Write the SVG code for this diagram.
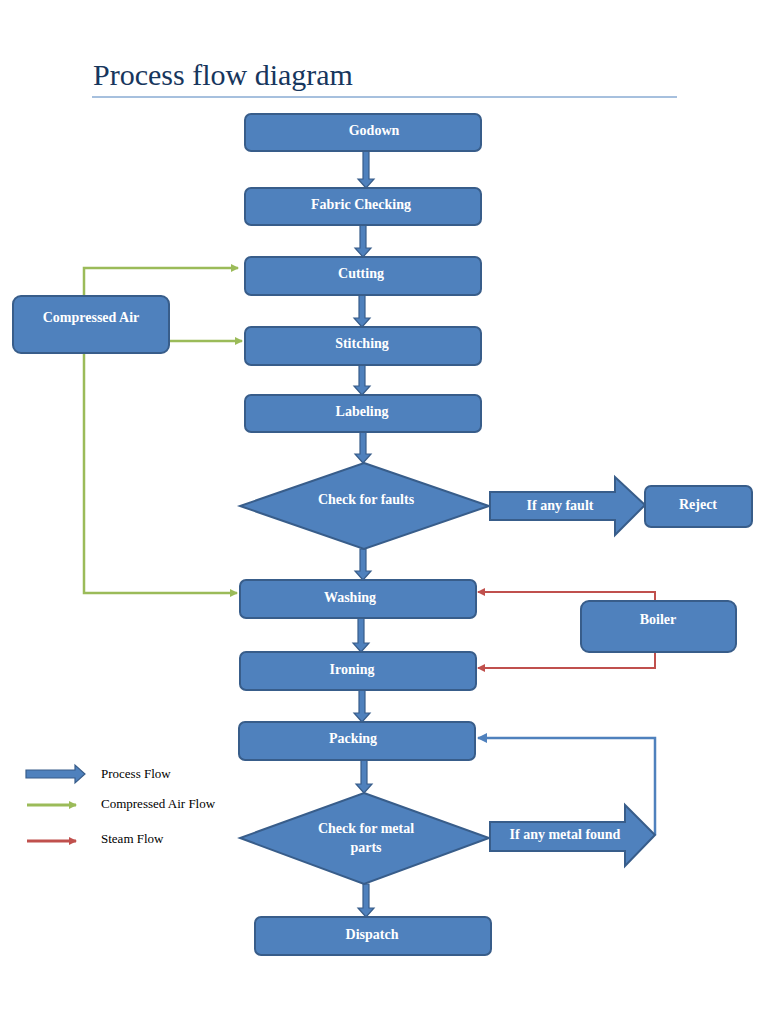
<svg xmlns="http://www.w3.org/2000/svg" width="768" height="1024" viewBox="0 0 768 1024">
<style>
.n{fill:#4F81BD;stroke:#385D8A;stroke-width:2}
.t{font-family:"Liberation Serif","DejaVu Serif",serif;font-weight:bold;font-size:14px;fill:#fff;text-anchor:middle}
.lg{font-family:"Liberation Serif","DejaVu Serif",serif;font-size:13px;fill:#000}
.pa{fill:#4F81BD;stroke:#385D8A;stroke-width:1.2}
.g{fill:none;stroke:#9BBB59;stroke-width:2.5}
.r{fill:none;stroke:#C0504D;stroke-width:2}
.b{fill:none;stroke:#4F81BD;stroke-width:2.5}
</style>
<defs>
<marker id="mg" markerWidth="8" markerHeight="8" refX="7" refY="4" orient="auto" markerUnits="userSpaceOnUse" viewBox="0 0 8 8"><path d="M0,0 L8,4 L0,8 z" fill="#9BBB59"/></marker>
<marker id="mr" markerWidth="8" markerHeight="8" refX="7" refY="4" orient="auto" markerUnits="userSpaceOnUse" viewBox="0 0 8 8"><path d="M0,0 L8,4 L0,8 z" fill="#C0504D"/></marker>
<marker id="mb" markerWidth="10" markerHeight="10" refX="9" refY="5" orient="auto" markerUnits="userSpaceOnUse" viewBox="0 0 10 10"><path d="M0,0 L10,5 L0,10 z" fill="#4F81BD"/></marker>
</defs>
<text x="93" y="85" font-family="Liberation Serif,DejaVu Serif,serif" font-size="30" fill="#17365D">Process flow diagram</text>
<line x1="92" y1="97" x2="677" y2="97" stroke="#4F81BD" stroke-width="1"/>
<g id="connectors">
<polygon class="pa" points="363,151 369,151 369,179 374,179 366,188 358,179 363,179"/>
<polygon class="pa" points="360,225 366,225 366,248 371,248 363,257 355,248 360,248"/>
<polygon class="pa" points="359,295 365,295 365,318 370,318 362,327 354,318 359,318"/>
<polygon class="pa" points="359,365 365,365 365,386 370,386 362,395 354,386 359,386"/>
<polygon class="pa" points="360,432 366,432 366,454 371,454 363,463 355,454 360,454"/>
<polygon class="pa" points="360,549 366,549 366,571 371,571 363,580 355,571 360,571"/>
<polygon class="pa" points="358,618 364,618 364,643 369,643 361,652 353,643 358,643"/>
<polygon class="pa" points="359,690 365,690 365,713 370,713 362,722 354,713 359,713"/>
<polygon class="pa" points="361,760 367,760 367,784 372,784 364,793 356,784 361,784"/>
<polygon class="pa" points="363,884 369,884 369,908 374,908 366,917 358,908 363,908"/>
<polyline class="g" points="84,296 84,268 238,268" marker-end="url(#mg)"/>
<polyline class="g" points="169,341 242,341" marker-end="url(#mg)"/>
<polyline class="g" points="84,353 84,593 237,593" marker-end="url(#mg)"/>
<polyline class="r" points="655,601 655,592 478,592" marker-end="url(#mr)"/>
<polyline class="r" points="655,652 655,668 478,668" marker-end="url(#mr)"/>
<polyline class="b" points="655,835 655,738 478,738" marker-end="url(#mb)"/>
</g>
<g id="godown"><rect class="n" x="245" y="114" width="236" height="37" rx="6"/><text class="t" x="374" y="135">Godown</text></g>
<g id="fabric"><rect class="n" x="245" y="188" width="236" height="37" rx="6"/><text class="t" x="361" y="209">Fabric Checking</text></g>
<g id="cutting"><rect class="n" x="245" y="257" width="236" height="38" rx="6"/><text class="t" x="361" y="278">Cutting</text></g>
<g id="stitching"><rect class="n" x="245" y="327" width="236" height="38" rx="6"/><text class="t" x="362" y="348">Stitching</text></g>
<g id="labeling"><rect class="n" x="245" y="395" width="236" height="37" rx="6"/><text class="t" x="362" y="416">Labeling</text></g>
<g id="compressed-air"><rect class="n" x="13" y="296" width="156" height="57" rx="8"/><text class="t" x="91" y="322">Compressed Air</text></g>
<g id="check-faults"><polygon class="n" points="364,463 489,506 364,549 240,506"/><text class="t" x="366" y="504">Check for faults</text></g>
<g id="if-fault"><polygon class="n" points="490,492 615,492 615,477 645,505 615,535 615,520 490,520"/><text class="t" x="560" y="510">If any fault</text></g>
<g id="reject"><rect class="n" x="645" y="486" width="107" height="41" rx="6"/><text class="t" x="698" y="509">Reject</text></g>
<g id="washing"><rect class="n" x="240" y="580" width="236" height="38" rx="6"/><text class="t" x="350" y="602">Washing</text></g>
<g id="boiler"><rect class="n" x="581" y="601" width="155" height="51" rx="8"/><text class="t" x="658" y="624">Boiler</text></g>
<g id="ironing"><rect class="n" x="240" y="652" width="236" height="38" rx="6"/><text class="t" x="352" y="674">Ironing</text></g>
<g id="packing"><rect class="n" x="239" y="722" width="236" height="38" rx="6"/><text class="t" x="353" y="743">Packing</text></g>
<g id="check-metal"><polygon class="n" points="364,793 489,838 364,884 240,838"/><text class="t" x="366" y="833">Check for metal</text><text class="t" x="366" y="852">parts</text></g>
<g id="if-metal"><polygon class="n" points="490,822 625,822 625,805 655,835 625,866 625,851 490,851"/><text class="t" x="565" y="839">If any metal found</text></g>
<g id="dispatch"><rect class="n" x="255" y="917" width="236" height="38" rx="6"/><text class="t" x="372" y="939">Dispatch</text></g>
<g id="legend">
<polygon class="pa" points="26,770 75,770 75,765 85,774 75,783 75,778 26,778"/>
<line x1="27" y1="805" x2="76" y2="805" stroke="#9BBB59" stroke-width="3" marker-end="url(#mg)"/>
<line x1="27" y1="841" x2="76" y2="841" stroke="#C0504D" stroke-width="3" marker-end="url(#mr)"/>
<text class="lg" x="101" y="778">Process Flow</text>
<text class="lg" x="101" y="808">Compressed Air Flow</text>
<text class="lg" x="101" y="843">Steam Flow</text>
</g>
</svg>
